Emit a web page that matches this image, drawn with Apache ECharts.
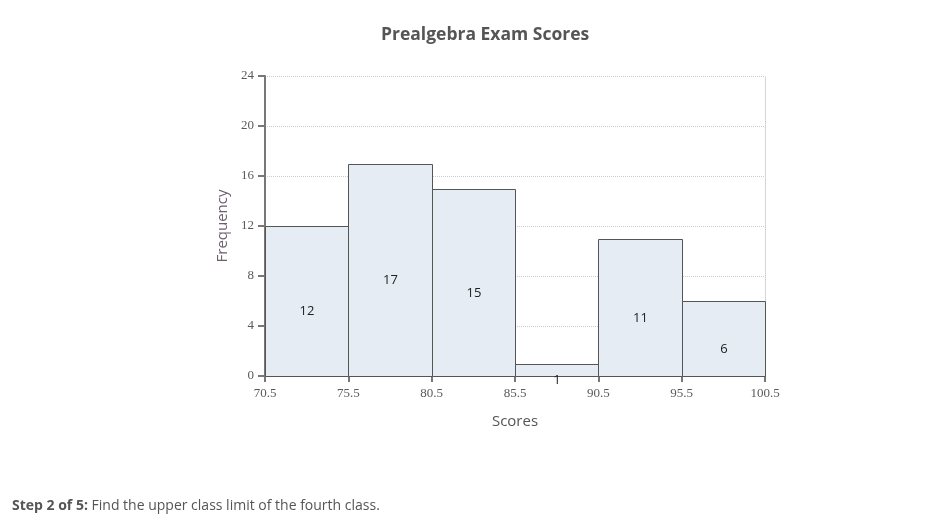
<!DOCTYPE html>
<html>
<head>
<meta charset="utf-8">
<script src="https://cdn.jsdelivr.net/npm/echarts@6/dist/echarts.min.js"></script>
<style>
  html, body { margin: 0; padding: 0; background: #fff; }
  #chart { width: 929px; height: 522px; }
</style>
</head>
<body>
<div id="chart"></div>
<script>
// class boundaries and frequencies
const classEdges = ['70.5', '75.5', '80.5', '85.5', '90.5', '95.5', '100.5']
const frequencies = [12, 17, 15, 1, 11, 6]
const yTicks = [0, 4, 8, 12, 16, 20, 24]

const myChart = echarts.init(document.getElementById('chart'))

const serif = '"Liberation Serif", "DejaVu Serif", serif'
const sans = '"Open Sans", "Noto Sans", sans-serif'

myChart.setOption({
  animation: false,
  title: {
    text: 'Prealgebra Exam Scores',
    left: 376,
    top: 21,
    textStyle: {
      fontFamily: sans,
      fontSize: 17.5,
      fontWeight: 'bold',
      color: '#555',
    },
  },
  grid: {
    left: 265,
    right: 164,
    top: 76,
    bottom: 146,
  },
  xAxis: {
    type: 'category',
    data: classEdges,
    boundaryGap: false,
    name: 'Scores',
    nameLocation: 'middle',
    nameGap: 38,
    nameTextStyle: { fontFamily: sans, fontSize: 15, color: '#555' },
    axisLine: { lineStyle: { color: '#777', width: 2 } },
    axisTick: { show: true, length: 6, lineStyle: { color: '#777', width: 2 }, alignWithLabel: true },
    axisLabel: { fontFamily: serif, fontSize: 13, color: '#5a5a5a', margin: 11 },
    splitLine: { show: false },
  },
  yAxis: [{
    type: 'value',
    min: yTicks[0],
    max: yTicks[yTicks.length - 1],
    interval: 4,
    name: 'Frequency',
    nameLocation: 'middle',
    nameGap: 33,
    nameTextStyle: { fontFamily: sans, fontSize: 15, color: '#6a5f6a' },
    axisLine: { show: true, lineStyle: { color: '#777', width: 2 } },
    axisTick: { show: true, length: 7, lineStyle: { color: '#777', width: 2 } },
    axisLabel: { fontFamily: serif, fontSize: 13, color: '#5a5a5a', margin: 11 },
    splitLine: { show: true, lineStyle: { color: '#ccc', type: 'dotted', width: 1 } },
  }, {
    type: 'value',
    position: 'right',
    min: 0,
    max: 24,
    interval: 4,
    axisLine: { show: true, lineStyle: { color: '#ccc', type: 'dotted', width: 1 } },
    axisTick: { show: false },
    axisLabel: { show: false },
    splitLine: { show: false },
  }],
  series: [{
    type: 'custom',
    data: frequencies.map((v, i) => [i, v]),
    renderItem: function (params, api) {
      const i = api.value(0)
      const v = api.value(1)
      const p0 = api.coord([i, 0])
      const p1 = api.coord([i + 1, v])
      const x = Math.round(p0[0]) + 0.5
      const w = Math.round(p1[0]) - Math.round(p0[0])
      const yTop = Math.round(p1[1]) + 0.5
      const h = Math.round(p0[1]) - Math.round(p1[1])
      return {
        type: 'group',
        children: [{
          type: 'rect',
          shape: { x: x, y: yTop, width: w, height: h },
          style: { fill: '#e5ecf3', stroke: '#555', lineWidth: 1 },
        }, {
          type: 'text',
          style: {
            text: String(v),
            x: x + w / 2,
            y: yTop + h / 2 + 10,
            align: 'center',
            verticalAlign: 'middle',
            fontFamily: sans,
            fontSize: 13,
            fill: '#222',
          },
          z2: 10,
        }],
      }
    },
  }],
  graphic: [{
    type: 'text',
    left: 12,
    top: 499,
    style: {
      text: '{b|Step 2 of 5:} Find the upper class limit of the fourth class.',
      rich: {
        b: { fontFamily: sans, fontSize: 14, fontWeight: 'bold', fill: '#555' },
      },
      fontFamily: sans,
      fontSize: 14,
      fill: '#555',
    },
  }],
})
</script>
</body>
</html>
